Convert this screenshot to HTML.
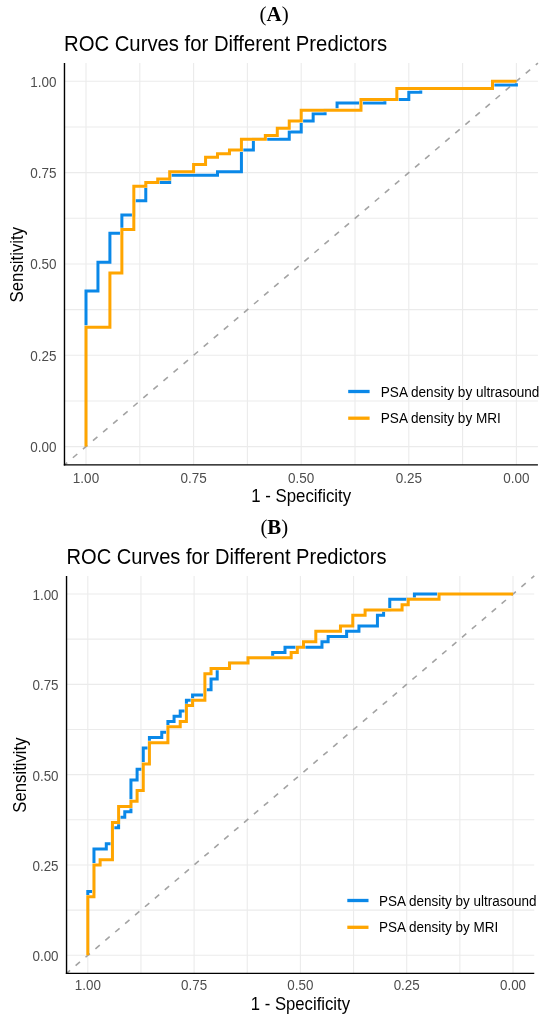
<!DOCTYPE html>
<html><head><meta charset="utf-8"><style>
html,body{margin:0;padding:0;background:#fff;}
body{width:550px;height:1024px;overflow:hidden;}
svg{display:block;font-family:"Liberation Sans",sans-serif;filter:blur(0.35px);}
</style></head><body>
<svg width="550" height="1024" viewBox="0 0 550 1024">
<rect width="550" height="1024" fill="#fff"/>
<line x1="86.00" y1="63.03" x2="86.00" y2="464.87" stroke="#EBEBEB" stroke-width="1.1"/>
<line x1="64.48" y1="81.30" x2="537.92" y2="81.30" stroke="#EBEBEB" stroke-width="1.1"/>
<line x1="139.80" y1="63.03" x2="139.80" y2="464.87" stroke="#EBEBEB" stroke-width="1.1"/>
<line x1="64.48" y1="126.96" x2="537.92" y2="126.96" stroke="#EBEBEB" stroke-width="1.1"/>
<line x1="193.60" y1="63.03" x2="193.60" y2="464.87" stroke="#EBEBEB" stroke-width="1.1"/>
<line x1="64.48" y1="172.62" x2="537.92" y2="172.62" stroke="#EBEBEB" stroke-width="1.1"/>
<line x1="247.40" y1="63.03" x2="247.40" y2="464.87" stroke="#EBEBEB" stroke-width="1.1"/>
<line x1="64.48" y1="218.29" x2="537.92" y2="218.29" stroke="#EBEBEB" stroke-width="1.1"/>
<line x1="301.20" y1="63.03" x2="301.20" y2="464.87" stroke="#EBEBEB" stroke-width="1.1"/>
<line x1="64.48" y1="263.95" x2="537.92" y2="263.95" stroke="#EBEBEB" stroke-width="1.1"/>
<line x1="355.00" y1="63.03" x2="355.00" y2="464.87" stroke="#EBEBEB" stroke-width="1.1"/>
<line x1="64.48" y1="309.61" x2="537.92" y2="309.61" stroke="#EBEBEB" stroke-width="1.1"/>
<line x1="408.80" y1="63.03" x2="408.80" y2="464.87" stroke="#EBEBEB" stroke-width="1.1"/>
<line x1="64.48" y1="355.28" x2="537.92" y2="355.28" stroke="#EBEBEB" stroke-width="1.1"/>
<line x1="462.60" y1="63.03" x2="462.60" y2="464.87" stroke="#EBEBEB" stroke-width="1.1"/>
<line x1="64.48" y1="400.94" x2="537.92" y2="400.94" stroke="#EBEBEB" stroke-width="1.1"/>
<line x1="516.40" y1="63.03" x2="516.40" y2="464.87" stroke="#EBEBEB" stroke-width="1.1"/>
<line x1="64.48" y1="446.60" x2="537.92" y2="446.60" stroke="#EBEBEB" stroke-width="1.1"/>
<line x1="64.48" y1="464.87" x2="537.92" y2="63.03" stroke="#A3A3A3" stroke-width="1.6" stroke-dasharray="5.8,7.4" stroke-dashoffset="2.2"/>
<mask id="mA" maskUnits="userSpaceOnUse" x="0" y="0" width="550" height="1024"><rect x="0" y="0" width="550" height="1024" fill="#fff"/><path d="M86.00,446.60 H86.00 V327.24 H109.91 V272.99 H121.87 V229.59 H133.82 V186.19 H145.78 V182.57 H157.73 V178.95 H169.69 V171.72 H193.60 V164.49 H205.56 V157.25 H217.51 V153.64 H229.47 V150.02 H241.42 V139.17 H265.33 V135.55 H277.29 V128.32 H289.24 V121.09 H301.20 V110.23 H360.98 V99.38 H396.84 V88.53 H492.49 V81.30 H516.40 V81.30" fill="none" stroke="#000" stroke-width="3.8" stroke-linecap="square"/></mask>
<path d="M86.00,446.60 H86.00 V291.08 H97.96 V262.14 H109.91 V233.21 H121.87 V215.12 H133.82 V200.66 H145.78 V182.57 H169.69 V175.34 H217.51 V171.72 H241.42 V150.02 H253.38 V139.17 H289.24 V131.94 H301.20 V121.09 H313.16 V113.85 H325.11 V110.23 H337.07 V103.00 H384.89 V99.38 H408.80 V92.15 H420.76 V88.53 H492.49 V84.92 H516.40 V81.30" fill="none" stroke="#0A88E8" stroke-width="3.0" stroke-linejoin="miter" stroke-linecap="butt" mask="url(#mA)"/>
<path d="M86.00,446.60 H86.00 V327.24 H109.91 V272.99 H121.87 V229.59 H133.82 V186.19 H145.78 V182.57 H157.73 V178.95 H169.69 V171.72 H193.60 V164.49 H205.56 V157.25 H217.51 V153.64 H229.47 V150.02 H241.42 V139.17 H265.33 V135.55 H277.29 V128.32 H289.24 V121.09 H301.20 V110.23 H360.98 V99.38 H396.84 V88.53 H492.49 V81.30 H516.40 V81.30" fill="none" stroke="#FFA500" stroke-width="3.0" stroke-linejoin="miter" stroke-linecap="butt"/>
<line x1="64.48" y1="63.03" x2="64.48" y2="465.56" stroke="#000" stroke-width="1.4"/>
<line x1="63.78" y1="464.87" x2="537.92" y2="464.87" stroke="#000" stroke-width="1.4"/>
<text transform="translate(56.48,451.95) scale(1,1.08)" font-size="13.5" fill="#4D4D4D" text-anchor="end">0.00</text>
<text transform="translate(56.48,360.63) scale(1,1.08)" font-size="13.5" fill="#4D4D4D" text-anchor="end">0.25</text>
<text transform="translate(56.48,269.30) scale(1,1.08)" font-size="13.5" fill="#4D4D4D" text-anchor="end">0.50</text>
<text transform="translate(56.48,177.97) scale(1,1.08)" font-size="13.5" fill="#4D4D4D" text-anchor="end">0.75</text>
<text transform="translate(56.48,86.65) scale(1,1.08)" font-size="13.5" fill="#4D4D4D" text-anchor="end">1.00</text>
<text transform="translate(86.00,482.70) scale(1,1.08)" font-size="13.5" fill="#4D4D4D" text-anchor="middle">1.00</text>
<text transform="translate(193.60,482.70) scale(1,1.08)" font-size="13.5" fill="#4D4D4D" text-anchor="middle">0.75</text>
<text transform="translate(301.20,482.70) scale(1,1.08)" font-size="13.5" fill="#4D4D4D" text-anchor="middle">0.50</text>
<text transform="translate(408.80,482.70) scale(1,1.08)" font-size="13.5" fill="#4D4D4D" text-anchor="middle">0.25</text>
<text transform="translate(516.40,482.70) scale(1,1.08)" font-size="13.5" fill="#4D4D4D" text-anchor="middle">0.00</text>
<text transform="translate(301.20,501.80) scale(1,1.08)" font-size="16.8" fill="#000" text-anchor="middle">1 - Specificity</text>
<text transform="translate(23.00,264.65) rotate(-90) scale(1,1.08)" font-size="16.8" fill="#000" text-anchor="middle">Sensitivity</text>
<text transform="translate(64.00,50.80) scale(1,1.08)" font-size="20.3" fill="#000">ROC Curves for Different Predictors</text>
<text x="274.10" y="21.20" font-size="21" font-family="Liberation Serif" fill="#000" text-anchor="middle">(<tspan font-weight="bold">A</tspan>)</text>
<line x1="348.20" y1="391.50" x2="369.60" y2="391.50" stroke="#0A88E8" stroke-width="3.3"/>
<text transform="translate(380.80,396.50) scale(1,1.08)" font-size="13.6" fill="#000">PSA density by ultrasound</text>
<line x1="348.20" y1="418.20" x2="369.60" y2="418.20" stroke="#FFA500" stroke-width="3.3"/>
<text transform="translate(380.80,423.00) scale(1,1.08)" font-size="13.6" fill="#000">PSA density by MRI</text>
<line x1="87.80" y1="575.93" x2="87.80" y2="973.37" stroke="#EBEBEB" stroke-width="1.1"/>
<line x1="66.54" y1="594.00" x2="534.26" y2="594.00" stroke="#EBEBEB" stroke-width="1.1"/>
<line x1="140.95" y1="575.93" x2="140.95" y2="973.37" stroke="#EBEBEB" stroke-width="1.1"/>
<line x1="66.54" y1="639.16" x2="534.26" y2="639.16" stroke="#EBEBEB" stroke-width="1.1"/>
<line x1="194.10" y1="575.93" x2="194.10" y2="973.37" stroke="#EBEBEB" stroke-width="1.1"/>
<line x1="66.54" y1="684.33" x2="534.26" y2="684.33" stroke="#EBEBEB" stroke-width="1.1"/>
<line x1="247.25" y1="575.93" x2="247.25" y2="973.37" stroke="#EBEBEB" stroke-width="1.1"/>
<line x1="66.54" y1="729.49" x2="534.26" y2="729.49" stroke="#EBEBEB" stroke-width="1.1"/>
<line x1="300.40" y1="575.93" x2="300.40" y2="973.37" stroke="#EBEBEB" stroke-width="1.1"/>
<line x1="66.54" y1="774.65" x2="534.26" y2="774.65" stroke="#EBEBEB" stroke-width="1.1"/>
<line x1="353.55" y1="575.93" x2="353.55" y2="973.37" stroke="#EBEBEB" stroke-width="1.1"/>
<line x1="66.54" y1="819.81" x2="534.26" y2="819.81" stroke="#EBEBEB" stroke-width="1.1"/>
<line x1="406.70" y1="575.93" x2="406.70" y2="973.37" stroke="#EBEBEB" stroke-width="1.1"/>
<line x1="66.54" y1="864.97" x2="534.26" y2="864.97" stroke="#EBEBEB" stroke-width="1.1"/>
<line x1="459.85" y1="575.93" x2="459.85" y2="973.37" stroke="#EBEBEB" stroke-width="1.1"/>
<line x1="66.54" y1="910.14" x2="534.26" y2="910.14" stroke="#EBEBEB" stroke-width="1.1"/>
<line x1="513.00" y1="575.93" x2="513.00" y2="973.37" stroke="#EBEBEB" stroke-width="1.1"/>
<line x1="66.54" y1="955.30" x2="534.26" y2="955.30" stroke="#EBEBEB" stroke-width="1.1"/>
<line x1="66.54" y1="973.37" x2="534.26" y2="575.93" stroke="#A3A3A3" stroke-width="1.6" stroke-dasharray="5.7,7.3" stroke-dashoffset="1.1"/>
<mask id="mB" maskUnits="userSpaceOnUse" x="0" y="0" width="550" height="1024"><rect x="0" y="0" width="550" height="1024" fill="#fff"/><path d="M87.80,955.30 H87.80 V896.85 H93.96 V864.97 H100.12 V859.66 H112.45 V822.47 H118.61 V806.53 H130.94 V801.22 H137.10 V790.59 H143.26 V764.02 H149.42 V742.77 H167.91 V726.83 H180.23 V721.52 H186.40 V705.58 H192.56 V700.26 H204.88 V673.70 H211.05 V668.39 H229.53 V663.07 H248.02 V657.76 H291.16 V652.45 H297.32 V647.13 H303.48 V641.82 H315.81 V631.19 H340.46 V625.88 H352.78 V615.25 H365.10 V609.94 H402.08 V604.63 H408.24 V599.31 H439.05 V594.00 H513.00 V594.00" fill="none" stroke="#000" stroke-width="3.8" stroke-linecap="square"/></mask>
<path d="M87.80,955.30 H87.80 V891.54 H93.96 V849.04 H106.29 V843.72 H112.45 V827.78 H118.61 V817.16 H124.77 V811.84 H130.94 V779.96 H137.10 V769.34 H143.26 V748.08 H149.42 V737.46 H161.75 V732.14 H167.91 V721.52 H174.07 V716.20 H180.23 V710.89 H186.40 V700.26 H192.56 V694.95 H204.88 V689.64 H211.05 V679.01 H217.21 V668.39 H229.53 V663.07 H248.02 V657.76 H272.67 V652.45 H284.99 V647.13 H321.97 V641.82 H328.13 V636.51 H346.62 V631.19 H358.94 V625.88 H377.43 V615.25 H383.59 V609.94 H389.75 V599.31 H414.40 V594.00 H513.00 V594.00" fill="none" stroke="#0A88E8" stroke-width="3.0" stroke-linejoin="miter" stroke-linecap="butt" mask="url(#mB)"/>
<path d="M87.80,955.30 H87.80 V896.85 H93.96 V864.97 H100.12 V859.66 H112.45 V822.47 H118.61 V806.53 H130.94 V801.22 H137.10 V790.59 H143.26 V764.02 H149.42 V742.77 H167.91 V726.83 H180.23 V721.52 H186.40 V705.58 H192.56 V700.26 H204.88 V673.70 H211.05 V668.39 H229.53 V663.07 H248.02 V657.76 H291.16 V652.45 H297.32 V647.13 H303.48 V641.82 H315.81 V631.19 H340.46 V625.88 H352.78 V615.25 H365.10 V609.94 H402.08 V604.63 H408.24 V599.31 H439.05 V594.00 H513.00 V594.00" fill="none" stroke="#FFA500" stroke-width="3.0" stroke-linejoin="miter" stroke-linecap="butt"/>
<line x1="66.54" y1="575.93" x2="66.54" y2="974.07" stroke="#000" stroke-width="1.4"/>
<line x1="65.84" y1="973.37" x2="534.26" y2="973.37" stroke="#000" stroke-width="1.4"/>
<text transform="translate(58.54,961.25) scale(1,1.08)" font-size="13.4" fill="#4D4D4D" text-anchor="end">0.00</text>
<text transform="translate(58.54,870.92) scale(1,1.08)" font-size="13.4" fill="#4D4D4D" text-anchor="end">0.25</text>
<text transform="translate(58.54,780.60) scale(1,1.08)" font-size="13.4" fill="#4D4D4D" text-anchor="end">0.50</text>
<text transform="translate(58.54,690.28) scale(1,1.08)" font-size="13.4" fill="#4D4D4D" text-anchor="end">0.75</text>
<text transform="translate(58.54,599.95) scale(1,1.08)" font-size="13.4" fill="#4D4D4D" text-anchor="end">1.00</text>
<text transform="translate(87.80,990.00) scale(1,1.08)" font-size="13.4" fill="#4D4D4D" text-anchor="middle">1.00</text>
<text transform="translate(194.10,990.00) scale(1,1.08)" font-size="13.4" fill="#4D4D4D" text-anchor="middle">0.75</text>
<text transform="translate(300.40,990.00) scale(1,1.08)" font-size="13.4" fill="#4D4D4D" text-anchor="middle">0.50</text>
<text transform="translate(406.70,990.00) scale(1,1.08)" font-size="13.4" fill="#4D4D4D" text-anchor="middle">0.25</text>
<text transform="translate(513.00,990.00) scale(1,1.08)" font-size="13.4" fill="#4D4D4D" text-anchor="middle">0.00</text>
<text transform="translate(300.40,1009.80) scale(1,1.08)" font-size="16.7" fill="#000" text-anchor="middle">1 - Specificity</text>
<text transform="translate(26.00,775.05) rotate(-90) scale(1,1.08)" font-size="16.7" fill="#000" text-anchor="middle">Sensitivity</text>
<text transform="translate(66.50,563.60) scale(1,1.08)" font-size="20.1" fill="#000">ROC Curves for Different Predictors</text>
<text x="274.30" y="534.30" font-size="20.8" font-family="Liberation Serif" fill="#000" text-anchor="middle">(<tspan font-weight="bold">B</tspan>)</text>
<line x1="347.30" y1="900.50" x2="368.50" y2="900.50" stroke="#0A88E8" stroke-width="3.3"/>
<text transform="translate(379.00,905.50) scale(1,1.08)" font-size="13.5" fill="#000">PSA density by ultrasound</text>
<line x1="347.30" y1="927.30" x2="368.50" y2="927.30" stroke="#FFA500" stroke-width="3.3"/>
<text transform="translate(379.00,931.50) scale(1,1.08)" font-size="13.5" fill="#000">PSA density by MRI</text>
</svg>
</body></html>
